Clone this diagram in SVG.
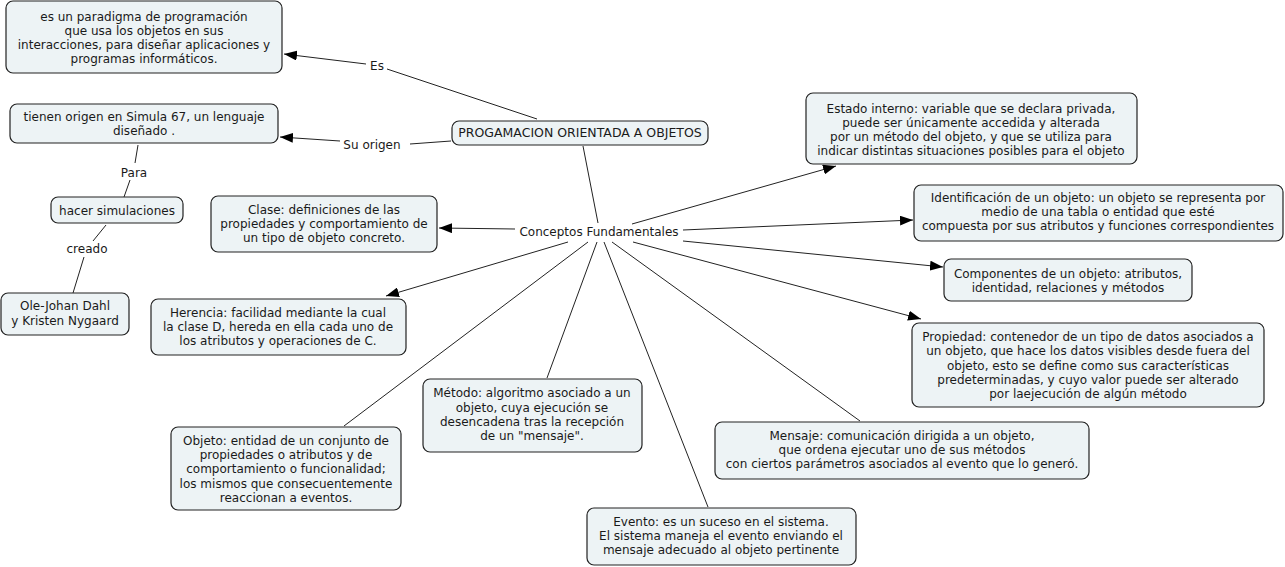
<svg xmlns="http://www.w3.org/2000/svg" width="1285" height="567" viewBox="0 0 1285 567">
<defs>
<marker id="arr" markerUnits="userSpaceOnUse" markerWidth="14" markerHeight="10" refX="13" refY="5" orient="auto">
<path d="M0,0 L13,5 L0,10 Z" fill="#000"/>
</marker>
<style>
.box{fill:#edf3f5;stroke:#222;stroke-width:1.2}
text{font-family:"DejaVu Sans","Verdana",sans-serif;font-size:12px;fill:#1a1a1a;text-anchor:middle}
.t{font-size:12.5px}
.c{fill:none;stroke:#222;stroke-width:1}
.a{fill:none;stroke:#222;stroke-width:1;marker-end:url(#arr)}
</style>
</defs>
<rect width="1285" height="567" fill="#fff"/>
<g id="connectors">
<line class="c" x1="537" y1="119" x2="387" y2="69"/>
<line class="a" x1="366" y1="64" x2="284" y2="54"/>
<text x="377" y="70">Es</text>
<line class="c" x1="451" y1="141" x2="410" y2="144"/>
<line class="a" x1="340" y1="141" x2="280" y2="137"/>
<text x="372" y="149">Su origen</text>
<line class="c" x1="138" y1="145" x2="135" y2="163"/>
<text x="134" y="177">Para</text>
<line class="c" x1="130" y1="180" x2="124" y2="197"/>
<line class="c" x1="106" y1="225" x2="93" y2="241"/>
<text x="87" y="253">creado</text>
<line class="c" x1="84" y1="257" x2="73" y2="293"/>
<line class="c" x1="583" y1="146" x2="598" y2="223"/>
<text x="599" y="236">Conceptos Fundamentales</text>
<line class="a" x1="515" y1="229" x2="439" y2="228"/>
<line class="a" x1="632" y1="224" x2="836" y2="166"/>
<line class="a" x1="683" y1="230" x2="913" y2="220"/>
<line class="a" x1="683" y1="241" x2="943" y2="267"/>
<line class="a" x1="633" y1="242" x2="921" y2="319"/>
<line class="c" x1="612" y1="242" x2="860" y2="421"/>
<line class="c" x1="604" y1="242" x2="708" y2="507"/>
<line class="c" x1="597" y1="242" x2="547" y2="378"/>
<line class="c" x1="588" y1="242" x2="344" y2="426"/>
<line class="a" x1="568" y1="242" x2="386" y2="296"/>
</g>
<g id="n-paradigma">
<rect class="box" x="6" y="1" width="276" height="72" rx="7"/>
<text x="144" y="21">es un paradigma de programación</text>
<text x="144" y="35">que usa los objetos en sus</text>
<text x="144" y="49">interacciones, para diseñar aplicaciones y</text>
<text x="144" y="63">programas informáticos.</text>
</g>
<g id="n-origen">
<rect class="box" x="10" y="104" width="268" height="39" rx="7"/>
<text x="144" y="121">tienen origen en Simula 67, un lenguaje</text>
<text x="144" y="135">diseñado .</text>
</g>
<g id="n-simulaciones">
<rect class="box" x="51" y="197" width="132" height="26" rx="7"/>
<text x="117" y="215">hacer simulaciones</text>
</g>
<g id="n-autores">
<rect class="box" x="1" y="293" width="128" height="42" rx="7"/>
<text x="65" y="310">Ole-Johan Dahl</text>
<text x="65" y="325">y Kristen Nygaard</text>
</g>
<g id="n-poo">
<rect class="box" x="452" y="121" width="256" height="24" rx="7"/>
<text class="t" x="580" y="137">PROGAMACION ORIENTADA A OBJETOS</text>
</g>
<g id="n-clase">
<rect class="box" x="211" y="196" width="226" height="56" rx="7"/>
<text x="324" y="214">Clase: definiciones de las</text>
<text x="324" y="228">propiedades y comportamiento de</text>
<text x="324" y="242">un tipo de objeto concreto.</text>
</g>
<g id="n-herencia">
<rect class="box" x="151" y="299" width="255" height="56" rx="7"/>
<text x="278" y="317">Herencia: facilidad mediante la cual</text>
<text x="278" y="331">la clase D, hereda en ella cada uno de</text>
<text x="278" y="345">los atributos y operaciones de C.</text>
</g>
<g id="n-objeto">
<rect class="box" x="171" y="427" width="230" height="83" rx="7"/>
<text x="286" y="445">Objeto: entidad de un conjunto de</text>
<text x="286" y="459">propiedades o atributos y de</text>
<text x="286" y="473">comportamiento o funcionalidad;</text>
<text x="286" y="488">los mismos que consecuentemente</text>
<text x="286" y="502">reaccionan a eventos.</text>
</g>
<g id="n-metodo">
<rect class="box" x="423" y="379" width="219" height="73" rx="7"/>
<text x="532" y="397">Método: algoritmo asociado a un</text>
<text x="532" y="412">objeto, cuya ejecución se</text>
<text x="532" y="426">desencadena tras la recepción</text>
<text x="532" y="440">de un "mensaje".</text>
</g>
<g id="n-evento">
<rect class="box" x="587" y="508" width="269" height="57" rx="7"/>
<text x="721" y="526">Evento: es un suceso en el sistema.</text>
<text x="721" y="540">El sistema maneja el evento enviando el</text>
<text x="721" y="554">mensaje adecuado al objeto pertinente</text>
</g>
<g id="n-mensaje">
<rect class="box" x="715" y="422" width="374" height="57" rx="7"/>
<text x="902" y="440">Mensaje: comunicación dirigida a un objeto,</text>
<text x="902" y="454">que ordena ejecutar uno de sus métodos</text>
<text x="902" y="468">con ciertos parámetros asociados al evento que lo generó.</text>
</g>
<g id="n-propiedad">
<rect class="box" x="912" y="323" width="352" height="84" rx="7"/>
<text x="1088" y="341">Propiedad: contenedor de un tipo de datos asociados a</text>
<text x="1088" y="355">un objeto, que hace los datos visibles desde fuera del</text>
<text x="1088" y="370">objeto, esto se define como sus características</text>
<text x="1088" y="384">predeterminadas, y cuyo valor puede ser alterado</text>
<text x="1088" y="398">por laejecución de algún método</text>
</g>
<g id="n-componentes">
<rect class="box" x="944" y="259" width="248" height="42" rx="7"/>
<text x="1068" y="278">Componentes de un objeto: atributos,</text>
<text x="1068" y="292">identidad, relaciones y métodos</text>
</g>
<g id="n-identificacion">
<rect class="box" x="914" y="185" width="369" height="56" rx="7"/>
<text x="1098" y="202">Identificación de un objeto: un objeto se representa por</text>
<text x="1098" y="216">medio de una tabla o entidad que esté</text>
<text x="1098" y="230">compuesta por sus atributos y funciones correspondientes</text>
</g>
<g id="n-estado">
<rect class="box" x="806" y="93" width="331" height="71" rx="7"/>
<text x="971" y="113">Estado interno: variable que se declara privada,</text>
<text x="971" y="127">puede ser únicamente accedida y alterada</text>
<text x="971" y="141">por un método del objeto, y que se utiliza para</text>
<text x="971" y="155">indicar distintas situaciones posibles para el objeto</text>
</g>
</svg>
